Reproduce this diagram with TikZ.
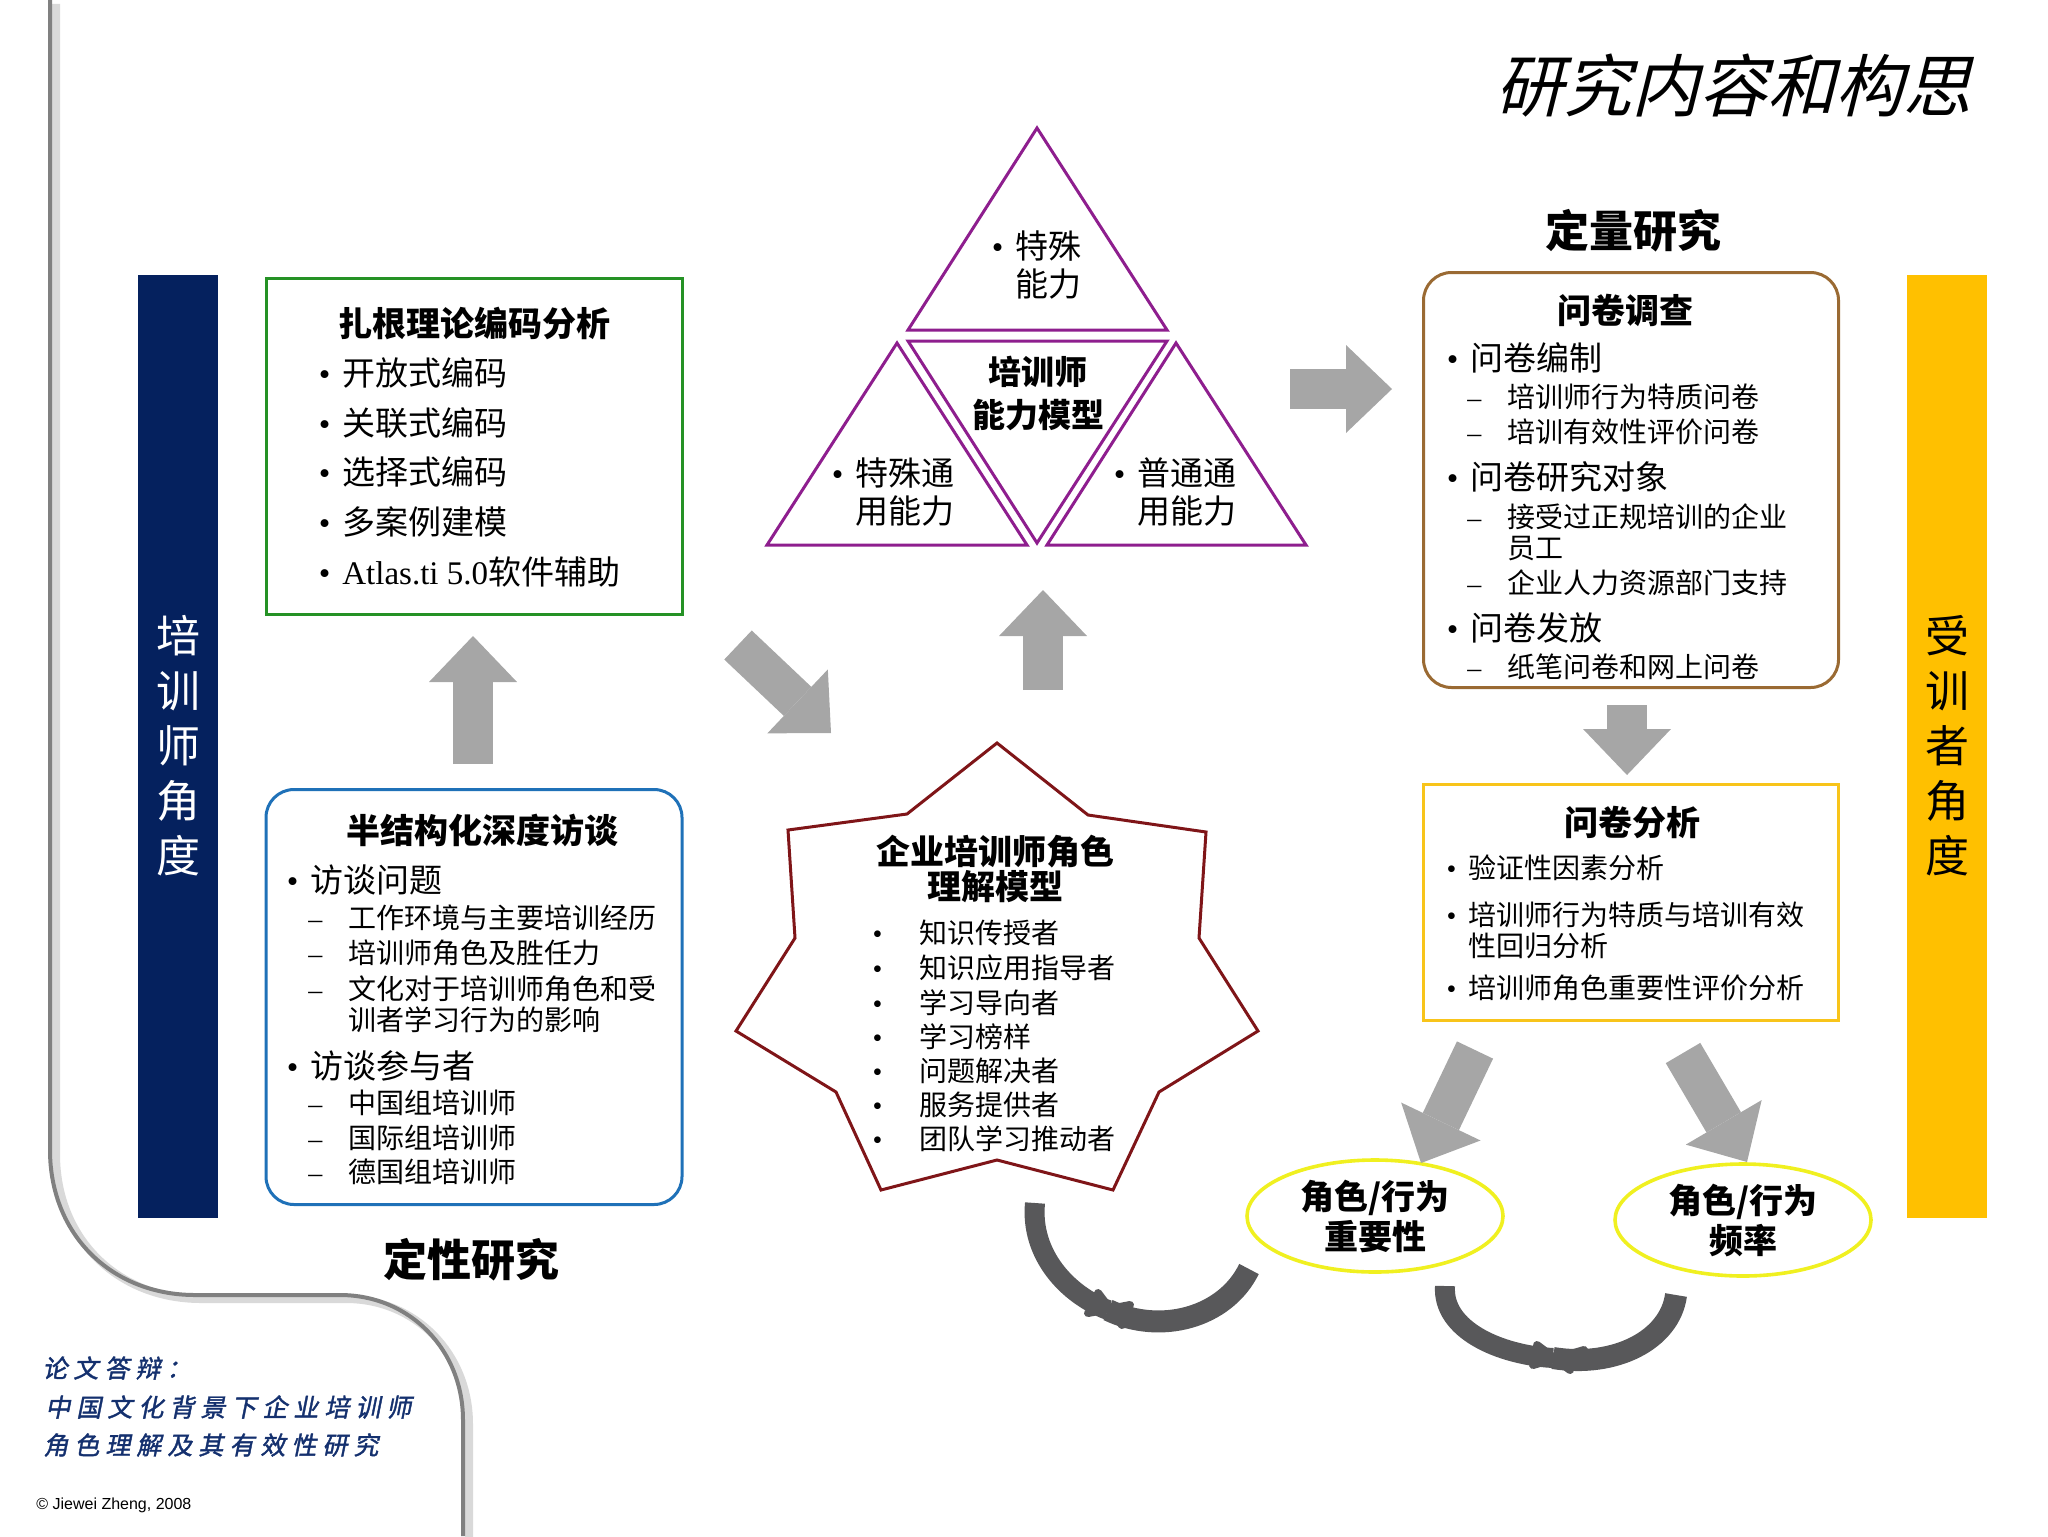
\documentclass[tikz,border=0pt]{standalone}
\usepackage{fontspec}
\setmainfont{Noto Sans CJK SC}
\newfontfamily\latf{Liberation Serif}
\newfontfamily\copyf{Liberation Sans}
\newfontfamily\headf[FakeSlant=0.25]{Noto Sans CJK SC}
\newfontfamily\brushf[FakeSlant=0.2,FakeBold=1.5,LetterSpace=24]{Noto Sans CJK SC}
\usetikzlibrary{arrows.meta,shapes.geometric}
\definecolor{navybar}{HTML}{05215E}
\definecolor{goldbar}{HTML}{FFC000}
\definecolor{boxgreen}{HTML}{259225}
\definecolor{boxblue}{HTML}{1F71B8}
\definecolor{boxbrown}{HTML}{9A6A33}
\definecolor{boxgold}{HTML}{F8C41A}
\definecolor{tripurple}{HTML}{8E1E8E}
\definecolor{starred}{HTML}{7F1518}
\definecolor{ellyellow}{HTML}{F0F020}
\definecolor{blkgray}{HTML}{A6A6A6}
\definecolor{curvgray}{HTML}{58585A}
\definecolor{inknavy}{HTML}{14306E}
\definecolor{framegray}{HTML}{808080}
\newcommand{\bul}[1][6pt]{\llap{{\latf •}\hspace{#1}}}
\newcommand{\dsh}{\llap{{\latf –}\hspace{13pt}}}

\begin{document}
\begin{tikzpicture}[
    x=0.5pt, y=-0.5pt,
    every node/.style={inner sep=0pt},
    bar/.style={minimum width=40pt, minimum height=471.5pt, align=center,
                font=\fontsize{22}{27.5}\selectfont},
    sq/.style={draw, line width=1.5pt, minimum width=208pt, fill=white},
    rbox/.style={sq, rounded corners=14pt},
    ttl/.style={align=center, font=\fontsize{17}{20}\selectfont\bfseries},
    big/.style={font=\fontsize{22}{22}\selectfont\bfseries},
    itm/.style={anchor=west, align=left, font=\fontsize{16.5}{19}\selectfont},
    sub/.style={anchor=west, align=left, font=\fontsize{14}{15.5}\selectfont},
    tri/.style={draw=tripurple, line width=1.5pt, line join=miter},
    blk/.style={draw=blkgray, line width=20pt,
                -{Triangle[length=23pt, width=44pt, line width=0pt]}},
    curv/.style={draw=curvgray, line width=11pt},
    xmark/.style={draw=curvgray, line width=4pt, line cap=round},
    ell/.style={ellipse, draw=ellyellow, line width=1.8pt, minimum width=128pt,
                minimum height=56pt, align=center, fill=white,
                font=\fontsize{17}{20}\selectfont\bfseries},
    brush/.style={anchor=west, text=inknavy, font=\brushf\fontsize{12.5}{12.5}\selectfont}
]
\useasboundingbox (0,0) rectangle (2048,1536);

% --- frame line ---
\draw[black!15, line width=4pt, xshift=3pt, yshift=-2pt]
  (50,0) -- (50,1150) .. controls (50,1235) and (112,1295) .. (195,1295)
  -- (340,1295) .. controls (410,1295) and (463,1350) .. (463,1420) -- (463,1536);
\draw[framegray, line width=2pt]
  (50,0) -- (50,1150) .. controls (50,1235) and (112,1295) .. (195,1295)
  -- (340,1295) .. controls (410,1295) and (463,1350) .. (463,1420) -- (463,1536);

% --- title ---
\node[font=\headf\fontsize{34}{34}\selectfont] (title) at (1733,86) {研究内容和构思};

% --- side bars ---
\node[bar, fill=navybar, text=white] (lbar) at (178,746) {培\\训\\师\\角\\度};
\node[bar, fill=goldbar] (rbar) at (1947,746) {受\\训\\者\\角\\度};

% --- coding box ---
\node[sq, draw=boxgreen, minimum height=168pt] (code) at (474,446) {};
\node[ttl] (codet) at (474,323) {扎根理论编码分析};
\node[itm] (c1) at (342,373) {\bul 开放式编码};
\node[itm] (c2) at (342,423) {\bul 关联式编码};
\node[itm] (c3) at (342,472) {\bul 选择式编码};
\node[itm] (c4) at (342,522) {\bul 多案例建模};
\node[itm] (c5) at (342,572) {\bul {\latf Atlas.ti 5.0}软件辅助};

% --- interview box ---
\node[rbox, draw=boxblue, minimum height=207.5pt] (intv) at (474,997) {};
\node[ttl] (intvt) at (482,830) {半结构化深度访谈};
\node[itm] (i1) at (310,880) {\bul 访谈问题};
\node[sub] (i11) at (348,918) {\dsh 工作环境与主要培训经历};
\node[sub] (i12) at (348,953) {\dsh 培训师角色及胜任力};
\node[sub] (i13) at (348,1004) {\dsh 文化对于培训师角色和受\\训者学习行为的影响};
\node[itm] (i2) at (310,1066) {\bul 访谈参与者};
\node[sub] (i21) at (348,1103) {\dsh 中国组培训师};
\node[sub] (i22) at (348,1138) {\dsh 国际组培训师};
\node[sub] (i23) at (348,1172) {\dsh 德国组培训师};
\node[big] (qual) at (471,1260) {定性研究};

% --- competence triangles ---
\draw[tri] (1037,128) -- (1167,330) -- (908,330) -- cycle;
\draw[tri] (908,341) -- (1167,341) -- (1037,543) -- cycle;
\draw[tri] (897,343) -- (1027,545) -- (767,545) -- cycle;
\draw[tri] (1176,343) -- (1306,545) -- (1047,545) -- cycle;
\node[itm] (t1) at (1015,265) {\bul 特殊\\能力};
\node[align=center, font=\fontsize{16.5}{21.5}\selectfont\bfseries] (t0) at (1038,393) {培训师\\能力模型};
\node[itm] (t2) at (855,492) {\bul 特殊通\\用能力};
\node[itm] (t3) at (1137,492) {\bul 普通通\\用能力};

% --- role star ---
\draw[starred, line width=1.5pt, fill=white] (997,743) -- (1088,815) -- (1206,832) -- (1199,938)
  -- (1258,1031) -- (1159,1092) -- (1113,1190) -- (997,1160) -- (881,1190) -- (836,1092)
  -- (736,1031) -- (795,938) -- (788,830) -- (907,814) -- cycle;
\node[align=center, font=\fontsize{17}{17.5}\selectfont\bfseries] (roler) at (995,869) {企业培训师角色\\理解模型};
\node[sub] (r1) at (913,933) {\bul[15.5pt] 知识传授者};
\node[sub] (r2) at (913,968) {\bul[15.5pt] 知识应用指导者};
\node[sub] (r3) at (913,1003) {\bul[15.5pt] 学习导向者};
\node[sub] (r4) at (913,1037) {\bul[15.5pt] 学习榜样};
\node[sub] (r5) at (913,1071) {\bul[15.5pt] 问题解决者};
\node[sub] (r6) at (913,1105) {\bul[15.5pt] 服务提供者};
\node[sub] (r7) at (913,1139) {\bul[15.5pt] 团队学习推动者};

% --- survey box ---
\node[big] (quant) at (1633,231) {定量研究};
\node[rbox, draw=boxbrown, minimum width=207.5pt, minimum height=207.5pt] (surv) at (1631,480) {};
\node[ttl] (survt) at (1625,310) {问卷调查};
\node[itm] (s1) at (1470,358) {\bul 问卷编制};
\node[sub] (s11) at (1507,397) {\dsh 培训师行为特质问卷};
\node[sub] (s12) at (1507,432) {\dsh 培训有效性评价问卷};
\node[itm] (s2) at (1470,477) {\bul 问卷研究对象};
\node[sub] (s21) at (1507,532) {\dsh 接受过正规培训的企业\\员工};
\node[sub] (s22) at (1507,583) {\dsh 企业人力资源部门支持};
\node[itm] (s3) at (1470,628) {\bul 问卷发放};
\node[sub] (s31) at (1507,667) {\dsh 纸笔问卷和网上问卷};

% --- analysis box ---
\node[sq, draw=boxgold, minimum width=207.5pt, minimum height=118pt] (anal) at (1631,902) {};
\node[ttl] (analt) at (1632,822) {问卷分析};
\node[sub] (a1) at (1468,868) {\bul 验证性因素分析};
\node[sub] (a2) at (1468,930) {\bul 培训师行为特质与培训有效\\性回归分析};
\node[sub] (a3) at (1468,988) {\bul 培训师角色重要性评价分析};

% --- outcome ellipses ---
\node[ell] (imp) at (1375,1216) {角色/行为\\重要性};
\node[ell] (freq) at (1743,1220) {角色/行为\\频率};

% --- block arrows ---
\coordinate (b1s) at (473,764);  \coordinate (b1e) at (473,636);
\coordinate (b2s) at (738,645);  \coordinate (b2e) at (831,733);
\coordinate (b3s) at (1043,690); \coordinate (b3e) at (1043,590);
\coordinate (b4s) at (1290,389); \coordinate (b4e) at (1392,389);
\coordinate (b5s) at (1627,705); \coordinate (b5e) at (1627,775);
\coordinate (b6s) at (1475,1050); \coordinate (b6e) at (1421,1163);
\coordinate (b7s) at (1683,1053); \coordinate (b7e) at (1747,1162);
\draw[blk] (b1s) -- (b1e);
\draw[blk] (b2s) -- (b2e);
\draw[blk] (b3s) -- (b3e);
\draw[blk] (b4s) -- (b4e);
\draw[blk] (b5s) -- (b5e);
\draw[blk] (b6s) -- (b6e);
\draw[blk] (b7s) -- (b7e);

% --- curved arrows ---
\coordinate (k1s) at (1035,1203); \coordinate (k1m) at (1108,1310); \coordinate (k1e) at (1249,1269);
\coordinate (k2s) at (1445,1286); \coordinate (k2m) at (1553,1358); \coordinate (k2e) at (1676,1295);
\draw[curv, line width=10pt] (k1s) .. controls (1030,1255) and (1068,1295) .. (k1m);
\draw[curv] (k1m) .. controls (1160,1335) and (1225,1318) .. (k1e);
\draw[xmark] (1088,1313) -- (1130,1305);
\draw[xmark] (1098,1293) -- (1122,1325);
\draw[curv, line width=10pt] (k2s) .. controls (1442,1330) and (1500,1355) .. (k2m);
\draw[curv] (k2m) .. controls (1615,1368) and (1670,1340) .. (k2e);
\draw[xmark] (1533,1365) -- (1584,1350);
\draw[xmark] (1537,1345) -- (1570,1370);

% --- footer ---
\node[brush] (th1) at (42,1368) {论文答辩：};
\node[brush] (th2) at (45,1407) {中国文化背景下企业培训师};
\node[brush] (th3) at (43,1445) {角色理解及其有效性研究};
\node[anchor=west, font=\copyf\fontsize{8}{8}\selectfont] (copy) at (36,1505) {© Jiewei Zheng, 2008};

\end{tikzpicture}
\end{document}
